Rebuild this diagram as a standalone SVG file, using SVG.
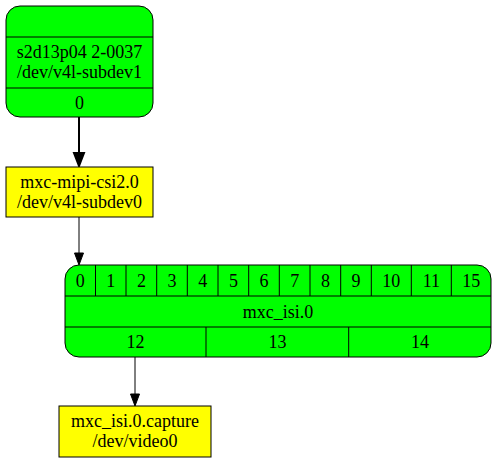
<svg xmlns="http://www.w3.org/2000/svg" width="497" height="463" viewBox="0 0 497 463">
<style>
.g{fill:#00ff00;stroke:#000;stroke-width:1}
.y{fill:#ffff00;stroke:#000;stroke-width:1}
.d{stroke:#000;stroke-width:1;fill:none}
.e{stroke:#000;fill:none}
.ah{fill:#000;stroke:#000}
</style>
<rect width="497" height="463" fill="#fff"/>
<g id="connectors">
<line class="e" x1="79" y1="117" x2="79" y2="154" stroke-width="2"/>
<polygon class="ah" points="74,153 84,153 79,166" stroke-width="2"/>
<line class="e" x1="79" y1="217" x2="79" y2="253"/>
<polygon class="ah" points="74.5,253 83.5,253 79,265"/>
<line class="e" x1="135" y1="357" x2="135" y2="394"/>
<polygon class="ah" points="130.5,394 139.5,394 135,406"/>
</g>
<g font-family="Liberation Serif, 'Times New Roman', serif" font-size="18" text-anchor="middle" fill="#000">
<g id="s2d13p04">
<rect class="g" x="6" y="6" width="147" height="111" rx="14" ry="14"/>
<line class="d" x1="6" y1="37" x2="153" y2="37"/>
<line class="d" x1="6" y1="88" x2="153" y2="88"/>
<text x="79.5" y="58">s2d13p04 2-0037</text>
<text x="79.5" y="78">/dev/v4l-subdev1</text>
<text x="79.5" y="109">0</text>
</g>
<g id="mipi-csi2">
<rect class="y" x="6" y="167" width="147" height="50"/>
<text x="79.5" y="188">mxc-mipi-csi2.0</text>
<text x="79.5" y="208">/dev/v4l-subdev0</text>
</g>
<g id="mxc_isi">
<rect class="g" x="65" y="265" width="426" height="92" rx="14" ry="14"/>
<line class="d" x1="65" y1="296" x2="491" y2="296"/>
<line class="d" x1="65" y1="327" x2="491" y2="327"/>
<g class="d">
<line x1="95.5" y1="265" x2="95.5" y2="296"/>
<line x1="126" y1="265" x2="126" y2="296"/>
<line x1="156.7" y1="265" x2="156.7" y2="296"/>
<line x1="187.3" y1="265" x2="187.3" y2="296"/>
<line x1="218" y1="265" x2="218" y2="296"/>
<line x1="248.7" y1="265" x2="248.7" y2="296"/>
<line x1="279.3" y1="265" x2="279.3" y2="296"/>
<line x1="310" y1="265" x2="310" y2="296"/>
<line x1="340.7" y1="265" x2="340.7" y2="296"/>
<line x1="371.3" y1="265" x2="371.3" y2="296"/>
<line x1="411.3" y1="265" x2="411.3" y2="296"/>
<line x1="451.3" y1="265" x2="451.3" y2="296"/>
<line x1="206" y1="327" x2="206" y2="357"/>
<line x1="348.7" y1="327" x2="348.7" y2="357"/>
</g>
<text x="80.2" y="287">0</text>
<text x="110.8" y="287">1</text>
<text x="141.4" y="287">2</text>
<text x="172" y="287">3</text>
<text x="202.7" y="287">4</text>
<text x="233.4" y="287">5</text>
<text x="264" y="287">6</text>
<text x="294.7" y="287">7</text>
<text x="325.4" y="287">8</text>
<text x="356" y="287">9</text>
<text x="391.3" y="287">10</text>
<text x="431.3" y="287">11</text>
<text x="471.2" y="287">15</text>
<text x="278" y="318">mxc_isi.0</text>
<text x="135.5" y="348">12</text>
<text x="277.4" y="348">13</text>
<text x="419.9" y="348">14</text>
</g>
<g id="capture">
<rect class="y" x="59" y="406" width="152" height="51"/>
<text x="135" y="427">mxc_isi.0.capture</text>
<text x="135" y="447">/dev/video0</text>
</g>
</g>
</svg>
